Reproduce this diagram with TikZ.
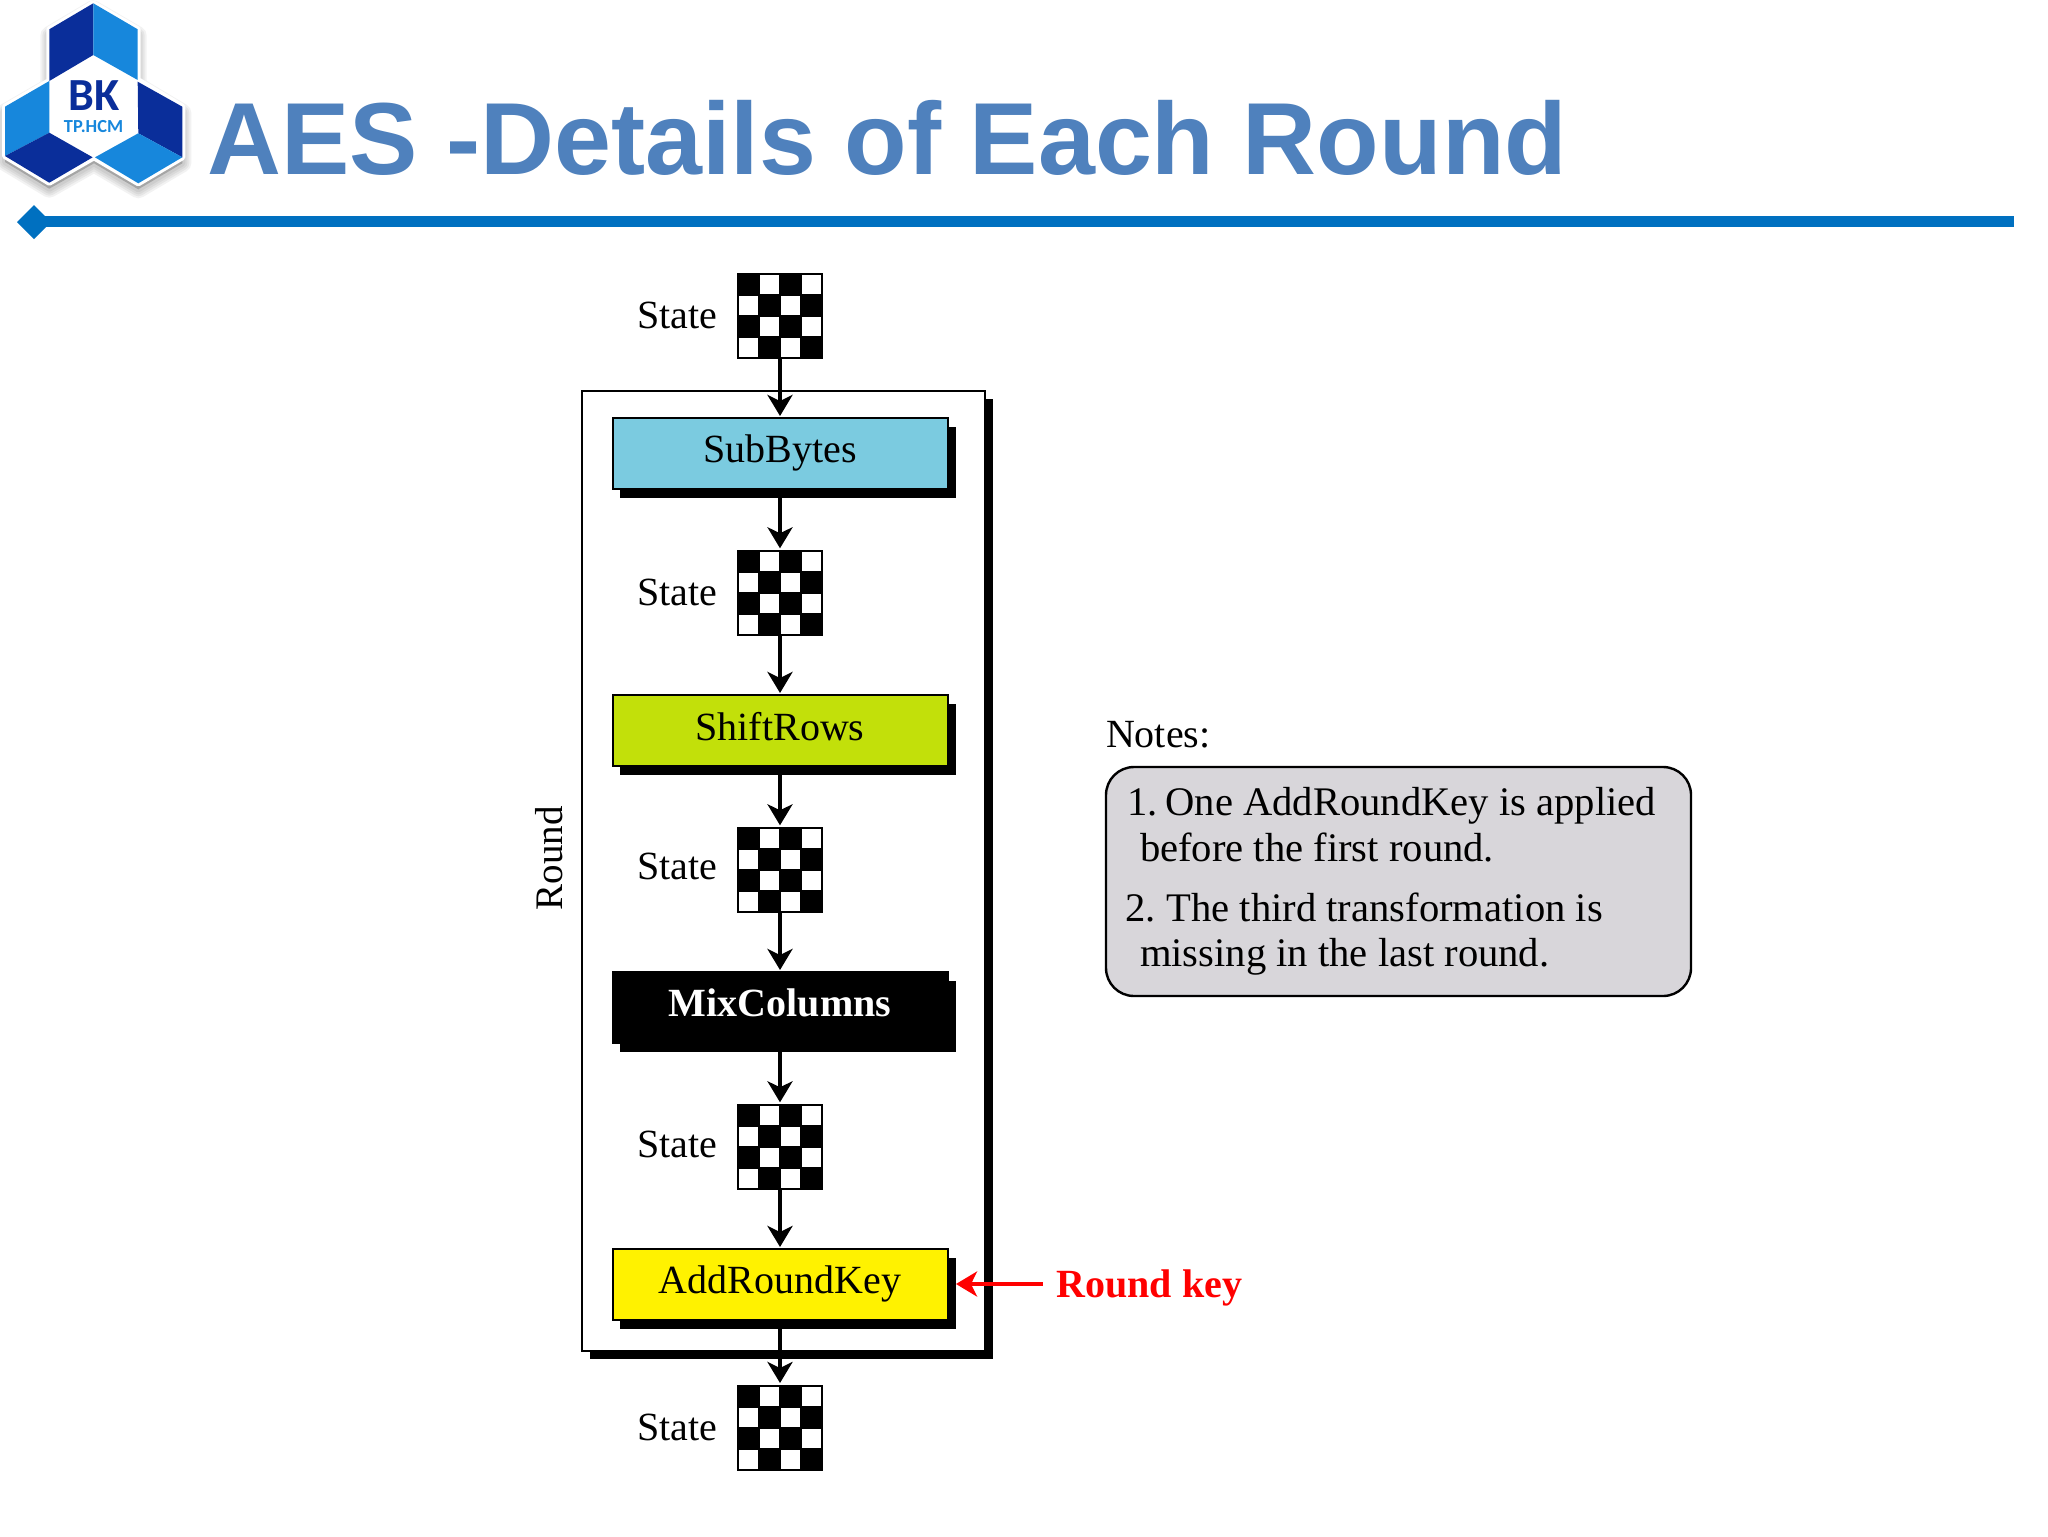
\documentclass[tikz,border=0pt]{standalone}
\usepackage{fontspec}
\setmainfont{Liberation Serif}
\newfontfamily\titlefont{Liberation Sans}
\newfontfamily\logofont{Carlito}
\usetikzlibrary{arrows.meta}
\definecolor{titleblue}{HTML}{4F81BD}
\definecolor{ruleblue}{HTML}{0070C0}
\definecolor{logodark}{HTML}{0A2E9A}
\definecolor{logolight}{HTML}{1787DC}
\definecolor{subcol}{HTML}{7BCBE0}
\definecolor{shiftcol}{HTML}{C2E00A}
\definecolor{notegray}{HTML}{D8D6DA}
\tikzset{
  txt/.style={inner sep=0pt,outer sep=0pt,anchor=base west,font=\fontsize{20}{24}\selectfont},
  notetxt/.style={txt,font=\fontsize{20.3}{24}\selectfont},
  opbox/.style={draw=black,line width=1pt,minimum width=167.5pt,inner sep=0pt,outer sep=0pt,
    text height=22pt,text depth=13.5pt,font=\fontsize{20}{24}\selectfont},
  opshadow/.style={fill=black,minimum width=168pt,minimum height=35.5pt,inner sep=0pt,outer sep=0pt},
  statebox/.style={fill=black,draw=black,line width=.5pt,minimum size=42.7pt,inner sep=0pt,outer sep=0pt},
  conn/.style={draw=black,line width=2.3pt,shorten >=1pt,-{Stealth[length=10.5pt,width=12.5pt,inset=3pt]}},
  keyconn/.style={draw=red,line width=2.2pt,-{Stealth[length=10.5pt,width=12.5pt,inset=3pt]}},
  logopoly/.style={line join=round}
}
\newcommand{\statecells}[1]{%
  \foreach \a/\b in {23/1.7,64.7/1.7,2/22.7,44/22.7,23/44,64.7/44,2/65,44/65}
    \fill[white] (737.3+\a,#1+\b) rectangle ++(19,19);}
\begin{document}
\begin{tikzpicture}[x=0.5pt,y=-0.5pt]
\useasboundingbox (0,0) rectangle (2048,1536);
\fill[white] (0,0) rectangle (2048,1536);
% logo shadow
\def\logoout{(93,3.3) -- (137.7,29.3) -- (137.7,80) -- (182.3,106.7) -- (182.3,157.3) -- (138.3,183.3) -- (94,157.3) -- (49.3,182.7) -- (5,156) -- (5,106.7) -- (49.3,81) -- (49.3,29.3) -- cycle}
\begin{scope}[yshift=-3pt]
\foreach \w in {9,7,5,3} \draw[black,opacity=.05,line width=\w pt,line join=round,fill=black,fill opacity=.05] \logoout;
\end{scope}
\draw[white,line width=3pt,line join=round,fill=white] \logoout;
\fill[logodark,logopoly] (93.3,3.3) -- (49.3,29.3) -- (49.3,81) -- (93.3,55) -- cycle;
\fill[logolight,logopoly] (93.3,3.3) -- (137.7,29.3) -- (137.7,80) -- (93.3,55) -- cycle;
\fill[logolight,logopoly] (49.3,81) -- (5,106.7) -- (5,156) -- (49.3,132.7) -- cycle;
\fill[logodark,logopoly] (5,156) -- (49.3,182.7) -- (92.7,157.3) -- (49.3,132.7) -- cycle;
\fill[logodark,logopoly] (137.7,81.7) -- (182.3,106.7) -- (182.3,157.3) -- (138.3,133.3) -- cycle;
\fill[logolight,logopoly] (138.3,133.3) -- (182.3,157.3) -- (138.3,183.3) -- (95,157.3) -- cycle;
\node[inner sep=0pt,text=logodark,font=\logofont\bfseries\fontsize{23}{24}\selectfont,anchor=base] (bk) at (94,111) {BK};
\node[inner sep=0pt,text=logolight,font=\logofont\bfseries\fontsize{9.2}{10}\selectfont,anchor=base] (hcm) at (93.5,133) {TP.HCM};
% title
\node[inner sep=0pt,anchor=base west,text=titleblue,font=\titlefont\bfseries\fontsize{51.2}{60}\selectfont] (title) at (207,174) {AES -Details of Each Round};
\fill[ruleblue] (40,216) rectangle (2014,227.3);
\fill[ruleblue] (34,205) -- (51,222) -- (34,239) -- (17,222) -- cycle;
% round frame
\node[fill=black,minimum width=201.7pt,minimum height=480pt,inner sep=0pt,outer sep=0pt] (frameS) at (791.3,878.7) {};
\node[draw=black,fill=white,line width=1pt,minimum width=201.7pt,minimum height=480pt,inner sep=0pt,outer sep=0pt] (frame) at (783.3,870.7) {};
\node[inner sep=0pt,anchor=base,rotate=90,font=\fontsize{19.5}{24}\selectfont] (roundlbl) at (562.7,858) {Round};
% operation boxes
\node[opshadow] (subS) at (788,462) {};
\node[opbox,fill=subcol] (sub) at (780,453.5) {SubBytes};
\node[opshadow] (shiftS) at (788,739) {};
\node[opbox,fill=shiftcol,text height=22.7pt,text depth=12.8pt] (shift) at (780,730.5) {ShiftRows};
\node[opshadow] (mixS) at (788,1016) {};
\node[opbox,fill=black,text=white,font=\bfseries\fontsize{20}{24}\selectfont] (mix) at (780,1007.5) {MixColumns};
\node[opshadow] (arkS) at (788,1293) {};
\node[opbox,fill=yellow] (ark) at (780,1284.5) {AddRoundKey};
% state grids
\node[statebox] (g1) at (780,316) {};\statecells{273.3}
\node[statebox] (g2) at (780,593) {};\statecells{550.3}
\node[statebox] (g3) at (780,870) {};\statecells{827.3}
\node[statebox] (g4) at (780,1147) {};\statecells{1104.3}
\node[statebox] (g5) at (780,1427.7) {};\statecells{1385}
\node[txt] (s1) at (637,328.7) {State};
\node[txt] (s2) at (637,605) {State};
\node[txt] (s3) at (637,879) {State};
\node[txt] (s4) at (637,1157.5) {State};
\node[txt] (s5) at (637,1440) {State};
% connectors
\draw[conn] (g1.south) -- (sub.north);
\draw[conn] (subS.south -| sub.south) -- (g2.north);
\draw[conn] (g2.south) -- (shift.north);
\draw[conn] (shiftS.south -| shift.south) -- (g3.north);
\draw[conn] (g3.south) -- (mix.north);
\draw[conn] (mixS.south -| mix.south) -- (g4.north);
\draw[conn] (g4.south) -- (ark.north);
\draw[conn] (arkS.south -| ark.south) -- (g5.north);
% round key
\node[inner sep=0pt,anchor=base west,text=red,font=\bfseries\fontsize{20}{24}\selectfont] (rk) at (1056,1297.5) {Round key};
\coordinate (rktail) at (1042.7,1284);
\draw[keyconn] (rktail) -- (rktail -| arkS.east);
% notes
\node[txt] (notes) at (1106,747.7) {Notes:};
\node[draw=black,fill=notegray,line width=1.2pt,rounded corners=14pt,minimum width=292.5pt,minimum height=114.5pt,inner sep=0pt,outer sep=0pt] (notebox) at (1398.5,881.5) {};
\node[notetxt] (n1) at (1127,815.5) {1.\hspace{.2em}One AddRoundKey is applied};
\node[notetxt] (n2) at (1140,861) {before the first round.};
\node[notetxt] (n3) at (1125,921.5) {2.\hspace{.27em}The third transformation is};
\node[notetxt] (n4) at (1140,966.5) {missing in the last round.};
\end{tikzpicture}
\end{document}
